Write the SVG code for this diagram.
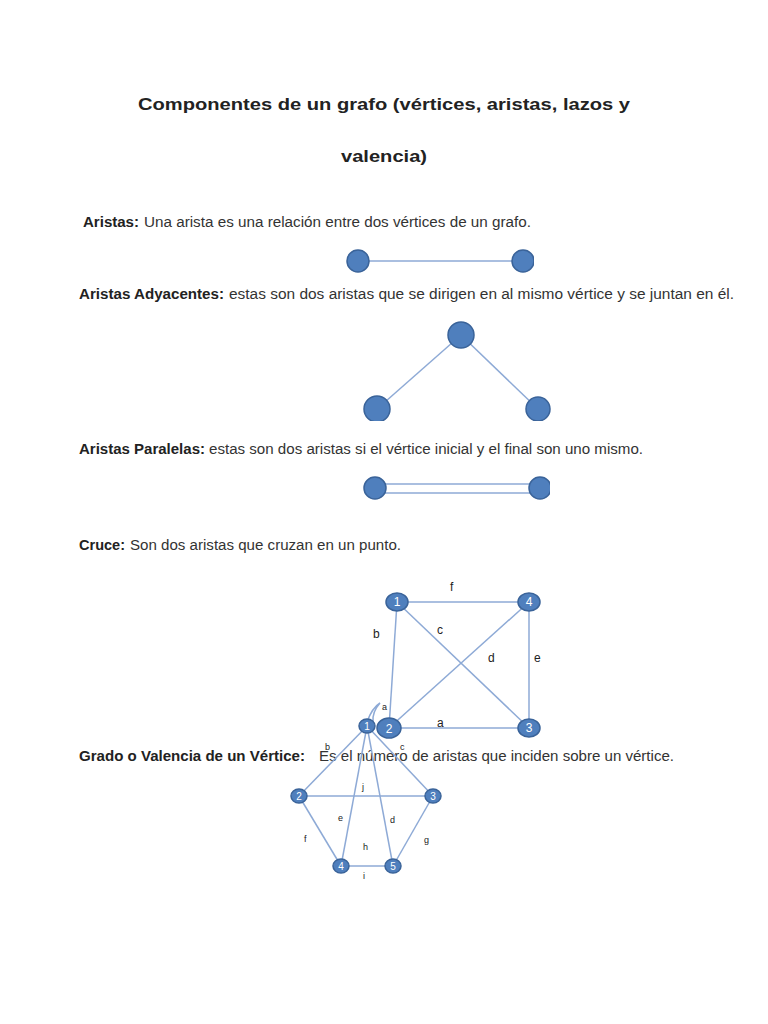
<svg xmlns="http://www.w3.org/2000/svg" width="768" height="1024" viewBox="0 0 768 1024">
<style>
text{font-family:"Liberation Sans",Arial,sans-serif;fill:#222}
.t{font-size:17px;font-weight:bold}
.p{font-size:14px;fill:#333}
.b{font-size:14px;font-weight:bold}
.n{fill:#4f7fbd;stroke:#3a6399;stroke-width:1.5}
.e{stroke:#8eaad6;stroke-width:1.5;fill:none}
.l{font-size:12px}
.s{font-size:9px}
.w{fill:#fff;font-size:12px;text-anchor:middle}
.ws{fill:#fff;font-size:10px;text-anchor:middle}
</style>
<rect width="768" height="1024" fill="#fff"/>
<text class="t" x="138" y="110" textLength="492" lengthAdjust="spacingAndGlyphs">Componentes de un grafo (vértices, aristas, lazos y</text>
<text class="t" x="341" y="162" textLength="86" lengthAdjust="spacingAndGlyphs">valencia)</text>
<text class="b" x="83" y="227" textLength="56" lengthAdjust="spacingAndGlyphs">Aristas:</text>
<text class="p" x="144" y="227" textLength="387" lengthAdjust="spacingAndGlyphs">Una arista es  una relación entre dos vértices de un grafo.</text>
<text class="b" x="79" y="299" textLength="145" lengthAdjust="spacingAndGlyphs">Aristas Adyacentes:</text>
<text class="p" x="229" y="299" textLength="505" lengthAdjust="spacingAndGlyphs">estas son dos   aristas  que se dirigen en al mismo vértice y se juntan en él.</text>
<text class="b" x="79" y="454" textLength="126" lengthAdjust="spacingAndGlyphs">Aristas Paralelas:</text>
<text class="p" x="209" y="454" textLength="434" lengthAdjust="spacingAndGlyphs">estas son dos aristas si el vértice inicial y el final son uno mismo.</text>
<text class="b" x="79" y="550" textLength="46" lengthAdjust="spacingAndGlyphs">Cruce:</text>
<text class="p" x="130" y="550" textLength="271" lengthAdjust="spacingAndGlyphs">Son dos aristas que cruzan en un punto.</text>
<text class="b" x="79" y="761" textLength="226" lengthAdjust="spacingAndGlyphs">Grado o Valencia de un Vértice:</text>
<text class="p" x="319" y="761" textLength="355" lengthAdjust="spacingAndGlyphs">Es el número de aristas que inciden sobre un vértice.</text>
<defs><clipPath id="c1"><rect x="0" y="0" width="534" height="1024"/></clipPath><clipPath id="c2"><rect x="0" y="0" width="768" height="421"/></clipPath><clipPath id="c3"><rect x="0" y="0" width="550" height="1024"/></clipPath></defs>
<g id="connectors">
<line class="e" x1="358" y1="261" x2="523" y2="261"/>
<line class="e" x1="461" y1="335" x2="377" y2="409"/>
<line class="e" x1="461" y1="335" x2="538" y2="409"/>
<line class="e" x1="375" y1="484" x2="540" y2="484"/>
<line class="e" x1="375" y1="493" x2="540" y2="493"/>
<line class="e" x1="397" y1="602" x2="529" y2="602"/>
<line class="e" x1="397" y1="602" x2="389" y2="728"/>
<line class="e" x1="397" y1="602" x2="529" y2="728"/>
<line class="e" x1="529" y1="602" x2="389" y2="728"/>
<line class="e" x1="529" y1="602" x2="529" y2="728"/>
<line class="e" x1="389" y1="728" x2="529" y2="728"/>
<path class="e" d="M367 722 Q372 708 380 703 Q372 712 373 722"/>
<line class="e" x1="367" y1="726" x2="299" y2="796"/>
<line class="e" x1="367" y1="726" x2="433" y2="796"/>
<line class="e" x1="367" y1="726" x2="341" y2="866"/>
<line class="e" x1="367" y1="726" x2="393" y2="866"/>
<line class="e" x1="299" y1="796" x2="433" y2="796"/>
<line class="e" x1="299" y1="796" x2="341" y2="866"/>
<line class="e" x1="433" y1="796" x2="393" y2="866"/>
<line class="e" x1="341" y1="866" x2="393" y2="866"/>
</g>
<g id="n-a1"><circle class="n" cx="358" cy="261" r="11"/></g>
<g id="n-a2" clip-path="url(#c1)"><circle class="n" cx="523" cy="261" r="11"/></g>
<g id="n-ad1"><circle class="n" cx="461" cy="335" r="13"/></g>
<g id="n-ad2" clip-path="url(#c2)"><circle class="n" cx="377" cy="409" r="13"/></g>
<g id="n-ad3" clip-path="url(#c2)"><circle class="n" cx="538" cy="409" r="12"/></g>
<g id="n-p1"><circle class="n" cx="375" cy="488" r="11"/></g>
<g id="n-p2" clip-path="url(#c3)"><circle class="n" cx="540" cy="488" r="11"/></g>
<g id="c-1"><ellipse class="n" cx="397" cy="602" rx="11" ry="9"/><text class="w" x="397" y="606">1</text></g>
<g id="c-4"><ellipse class="n" cx="529" cy="602" rx="11" ry="9"/><text class="w" x="529" y="606">4</text></g>
<g id="c-2"><ellipse class="n" cx="389" cy="728" rx="12" ry="10"/><text class="w" x="389" y="733">2</text></g>
<g id="c-3"><ellipse class="n" cx="529" cy="728" rx="11" ry="9"/><text class="w" x="529" y="732">3</text></g>
<g id="v-1"><ellipse class="n" cx="367" cy="726" rx="8" ry="7"/><text class="ws" x="367" y="730">1</text></g>
<g id="v-2"><ellipse class="n" cx="299" cy="796" rx="8" ry="7"/><text class="ws" x="299" y="800">2</text></g>
<g id="v-3"><ellipse class="n" cx="433" cy="796" rx="8" ry="7"/><text class="ws" x="433" y="800">3</text></g>
<g id="v-4"><ellipse class="n" cx="341" cy="866" rx="8" ry="7"/><text class="ws" x="341" y="870">4</text></g>
<g id="v-5"><ellipse class="n" cx="393" cy="866" rx="8" ry="7"/><text class="ws" x="393" y="870">5</text></g>
<g id="labels">
<text class="l" x="450" y="591">f</text>
<text class="l" x="373" y="638">b</text>
<text class="l" x="437" y="634">c</text>
<text class="l" x="488" y="662">d</text>
<text class="l" x="534" y="662">e</text>
<text class="l" x="437" y="727">a</text>
<text class="s" x="382" y="710">a</text>
<text class="s" x="325" y="750">b</text>
<text class="s" x="400" y="750">c</text>
<text class="s" x="362" y="790">j</text>
<text class="s" x="338" y="821">e</text>
<text class="s" x="390" y="823">d</text>
<text class="s" x="304" y="842">f</text>
<text class="s" x="424" y="843">g</text>
<text class="s" x="363" y="850">h</text>
<text class="s" x="363" y="879">i</text>
</g>
</svg>
